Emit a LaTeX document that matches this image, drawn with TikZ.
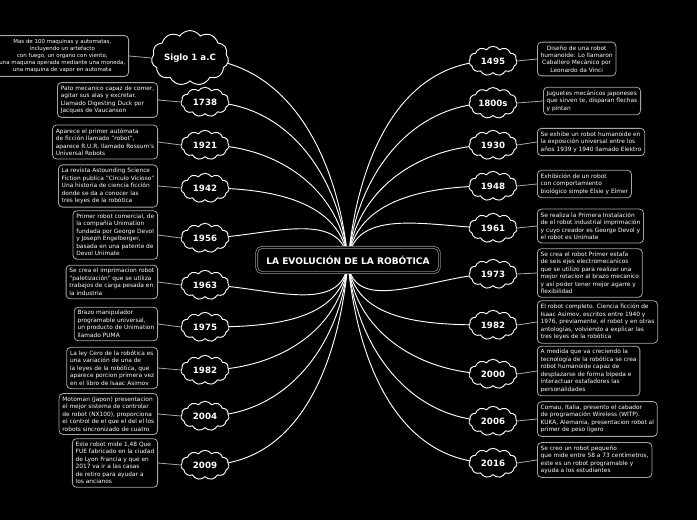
\documentclass[tikz,border=0pt]{standalone}
\usepackage{fontspec}
\setmainfont{DejaVu Sans}
\usetikzlibrary{shapes.symbols}
\tikzset{
 info/.style={draw=gray!70, line width=0.6pt, rounded corners=3pt, fill=black, text=white,
   font=\fontsize{4.4}{5.6}\selectfont, align=left, inner sep=2.5pt, anchor=east},
 infor/.style={info, anchor=west},
 yr/.style={cloud, cloud puffs=11, cloud puff arc=110, aspect=1.6, draw=white, line width=0.7pt,
   fill=black, text=white, font=\fontsize{6.5}{7}\bfseries\selectfont, minimum width=36pt, minimum height=22pt, inner sep=0pt},
 lk/.style={white, line width=0.7pt},
 bl/.style={gray!70, line width=0.6pt}
}
\begin{document}
\begin{tikzpicture}[x=0.75pt,y=-0.75pt]
\fill[black] (0,0) rectangle (697,520);
\useasboundingbox (0,0) rectangle (697,520);
\coordinate (o) at (348,262);
\foreach \y in {102,145,188,238,285,327,370,416,465}
  {\draw[lk] (o) to[out={\y<262?95:265}, in=0] (205,\y);}
\draw[lk] (o) to[out=95,in=0] (190,58);
\foreach \y in {61,103,145,186,228,274,325,374,421,463}
  {\draw[lk] (o) to[out={\y<262?85:275}, in=180] (493,\y);}
\node[draw=gray!80, double=black, double distance=1pt, line width=0.5pt, rounded corners=4pt, fill=black, text=white,
  font=\fontsize{6.8}{8}\bfseries\selectfont, minimum width=137pt, minimum height=19pt] (c) at (348,260) {LA EVOLUCIÓN DE LA ROBÓTICA};
% left
\node[yr, minimum width=56pt] (s0) at (190,58) {Siglo 1 a.C};
\node[yr] (l1) at (205,102) {1738};
\node[yr] (l2) at (205,145) {1921};
\node[yr] (l3) at (205,188) {1942};
\node[yr] (l4) at (205,238) {1956};
\node[yr] (l5) at (205,285) {1963};
\node[yr] (l6) at (205,327) {1975};
\node[yr] (l7) at (205,370) {1982};
\node[yr] (l8) at (205,416) {2004};
\node[yr] (l9) at (205,465) {2009};
\node[info, align=center, font=\fontsize{4.1}{5.4}\selectfont] (t0) at (129,56) {Mas de 100 maquinas y automatas,\\incluyendo un artefacto\\con fuego, un organo con viento,\\una maquina operada mediante una moneda,\\una maquina de vapor en automata};
\node[info] (t1) at (158,100) {Pato mecanico capaz de comer,\\agitar sus alas y excretar.\\Llamado Digesting Duck por\\Jacques de Vaucanson};
\node[info] (t2) at (158,142) {Aparece el primer autómata\\de ficción llamado "robot",\\aparece R.U.R, llamado Rossum's\\Universal Robots};
\node[info] (t3) at (158,186) {La revista Astounding Science\\Fiction publica "Círculo Vicioso"\\Una historia de ciencia ficción\\donde se da a conocer las\\tres leyes de la robótica};
\node[info] (t4) at (158,235) {Primer robot comercial, de\\la compañía Unimation\\fundada por George Devol\\y Joseph Engelberger,\\basada en una patente de\\Devol Unimate};
\node[info] (t5) at (158,282) {Se crea el imprimacion robot\\"paletización" que se utiliza\\trabajos de carga pesada en\\la industria};
\node[info] (t6) at (158,324) {Brazo manipulador\\programable universal,\\un producto de Unimation\\llamado PUMA};
\node[info] (t7) at (158,368) {La ley Cero de la robótica es\\una variación de una de\\la leyes de la robótica, que\\aparece porcion primera vez\\en el libro de Isaac Asimov};
\node[info] (t8) at (158,414) {Motoman (Japon) presentacion\\el mejor sistema de controlar\\de robot (NX100), proporciona\\el control de el que el del el los\\robots sincronizado de cuatro};
\node[info] (t9) at (158,463) {Este robot mide 1,48 Que\\FUE fabricado en la ciudad\\de Lyon Francia y que en\\2017 va ir a las casas\\de retiro para ayudar a\\los ancianos};
\foreach \a/\b in {s0/t0,l1/t1,l2/t2,l3/t3,l4/t4,l5/t5,l6/t6,l7/t7,l8/t8,l9/t9} \draw[bl] (\a.west) -- (\b.east);
% right
\node[yr] (r1) at (493,61) {1495};
\node[yr] (r2) at (493,103) {1800s};
\node[yr] (r3) at (493,145) {1930};
\node[yr] (r4) at (493,186) {1948};
\node[yr] (r5) at (493,228) {1961};
\node[yr] (r6) at (493,274) {1973};
\node[yr] (r7) at (493,325) {1982};
\node[yr] (r8) at (493,374) {2000};
\node[yr] (r9) at (493,421) {2006};
\node[yr] (r10) at (493,463) {2016};
\node[infor, align=center] (u1) at (537,59) {Diseño de una robot\\humanoide: Lo llamaron\\Caballero Mecánico por\\Leonardo da Vinci};
\node[infor] (u2) at (543,101) {Juguetes mecánicos japoneses\\que sirven te, disparan flechas\\y pintan};
\node[infor] (u3) at (537,142) {Se exhibe un robot humanoide en\\la exposición universal entre los\\años 1939 y 1940 llamado Elektro};
\node[infor] (u4) at (537,184) {Exhibición de un robot\\con comportamiento\\biológico simple Elsie y Elmer};
\node[infor] (u5) at (537,226) {Se realiza la Primera Instalación\\de el robot industrial imprimación\\y cuyo creador es George Devol y\\el robot es Unimate};
\node[infor] (u6) at (537,273) {Se crea el robot Primer estafa\\de seis ejes electromecanicos\\que se utilizo para realizar una\\mejor rotacion al brazo mecanico\\y asi poder tener mejor agarre y\\flexibilidad};
\node[infor] (u7) at (537,322) {El robot completo. Ciencia ficción de\\Isaac Asimov, escritos entre 1940 y\\1976, previamente, el robot y en otras\\antologías, volviendo a explicar las\\tres leyes de la robótica};
\node[infor] (u8) at (537,371) {A medida que va creciendo la\\tecnología de la robótica se crea\\robot humanoide capaz de\\desplazarse de forma bípeda e\\interactuar estafadores las\\personalidades};
\node[infor] (u9) at (537,419) {Comau, Italia, presento el cabador\\de programación Wireless (WITP).\\KUKA, Alemania, presentacion robot al\\primer de peso ligero};
\node[infor] (u10) at (537,460) {Se creo un robot pequeño\\que mide entre 58 a 73 centímetros,\\este es un robot programable y\\ayuda a los estudiantes};
\foreach \i in {1,...,10} \draw[bl] (r\i.east) -- (u\i.west);
\end{tikzpicture}
\end{document}
